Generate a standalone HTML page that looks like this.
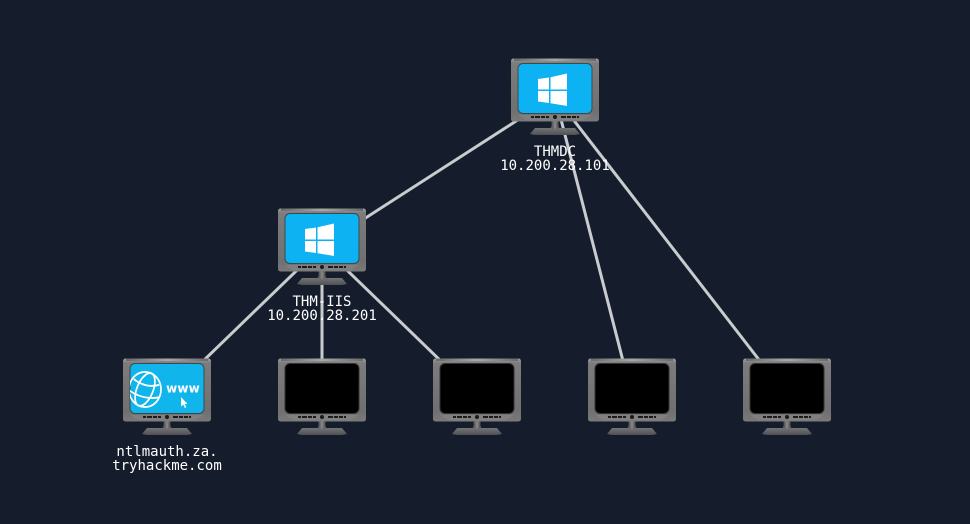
<!DOCTYPE html>
<html><head><meta charset="utf-8"><style>
html,body{margin:0;padding:0;background:#151c2b;width:970px;height:524px;overflow:hidden}
svg{display:block}
text{font-family:"DejaVu Sans Mono","Liberation Mono",monospace;font-size:14px;fill:#fff;text-anchor:middle}
</style></head><body>
<svg width="970" height="524" viewBox="0 0 970 524" xmlns="http://www.w3.org/2000/svg">
<defs>
<linearGradient id="b" x1="0" y1="0" x2="0" y2="1"><stop offset="0" stop-color="#a0a0a0"/><stop offset=".07" stop-color="#7c7c7c"/><stop offset=".85" stop-color="#707070"/><stop offset="1" stop-color="#7a7a7a"/></linearGradient>
<linearGradient id="t" x1="0" y1="0" x2="1" y2="0"><stop offset="0" stop-color="#6a6a6a"/><stop offset=".5" stop-color="#a8a8a8"/><stop offset="1" stop-color="#6a6a6a"/></linearGradient>
<linearGradient id="s" x1="0" y1="0" x2="0" y2="1"><stop offset="0" stop-color="#7b7b7b"/><stop offset="1" stop-color="#4e5154"/></linearGradient>
<linearGradient id="n" x1="0" y1="0" x2="1" y2="0"><stop offset="0" stop-color="#4a4a4a"/><stop offset=".5" stop-color="#8a8a8a"/><stop offset="1" stop-color="#4a4a4a"/></linearGradient>
<clipPath id="c"><rect x="7" y="5" width="74" height="50" rx="5"/></clipPath>
<g id="m">
<path d="M24 69.500H40V68H48V69.500H64L69 75.500L64 76.500H24L19 75.500Z" fill="url(#s)"/>
<rect x="40.500" y="63" width="7" height="7" fill="url(#n)"/>
<rect x="0" y="0" width="88" height="63" rx="2.500" fill="url(#b)"/>
<rect x="3" y="0" width="82" height="2.500" fill="url(#t)"/>
<path d="M7 56.500H81L72 62H16Z" fill="#808080"/>
<g fill="#1a1a1a"><rect x="20" y="57.500" width="3" height="2"/><rect x="24" y="57.500" width="5" height="2"/><rect x="30" y="57.500" width="4" height="2"/><rect x="35" y="57.500" width="3" height="2"/><rect x="50" y="57.500" width="5" height="2"/><rect x="56" y="57.500" width="4" height="2"/><rect x="61" y="57.500" width="4" height="2"/><rect x="66" y="57.500" width="2" height="2"/><circle cx="44" cy="58.500" r="2"/></g>
</g>
<g id="w" fill="#fff"><path d="M27 20.500L38 19V31H27ZM39.500 18.800L56 15V31H39.500ZM27 32.500H38V44.500L27 43ZM39.500 32.500H56V47.500L39.500 44.700Z"/></g>
</defs>
<rect width="970" height="524" fill="#151c2b"/>
<g stroke="#c9cccf" stroke-width="3" fill="none">
<line x1="555" y1="96" x2="322" y2="246"/>
<line x1="555" y1="96" x2="632" y2="396"/>
<line x1="555" y1="96" x2="787" y2="396"/>
<line x1="322" y1="246" x2="167" y2="396"/>
<line x1="322" y1="246" x2="322" y2="396"/>
<line x1="322" y1="246" x2="477" y2="396"/>
</g>

<g transform="translate(511,58.500)"><use href="#m"/><rect x="7" y="5" width="74" height="50" rx="5" fill="#0cb2f1" stroke="#3a4a52" stroke-width="1"/><use href="#w"/></g>
<g transform="translate(278,208.500)"><use href="#m"/><rect x="7" y="5" width="74" height="50" rx="5" fill="#0cb2f1" stroke="#3a4a52" stroke-width="1"/><use href="#w"/></g>

<g transform="translate(123,358.500)"><use href="#m"/><rect x="7" y="5" width="74" height="50" rx="5" fill="#10b5ec" stroke="#3a4a52" stroke-width="1"/>
<g clip-path="url(#c)"><g fill="none" stroke="#fff" stroke-width="1.700" transform="translate(22,31) scale(1,1.100)"><circle r="16"/><ellipse rx="8" ry="16" transform="rotate(25)"/><path d="M-13 -7Q0 -1 13 -7M-15.500 4Q0 10 15.500 4" transform="rotate(12)"/></g></g>
<text x="60" y="34" style="font-family:'DejaVu Sans',sans-serif;font-size:12px;font-weight:bold;letter-spacing:.2px">www</text>
<path d="M58 38.500L58 48L60.300 46L61.800 49.500L63.300 48.800L61.900 45.500H64.500Z" fill="#fff"/></g>

<g transform="translate(278,358.500)"><use href="#m"/><rect x="7" y="5" width="74" height="50" rx="5" fill="#000" stroke="#333" stroke-width="1"/></g>
<g transform="translate(433,358.500)"><use href="#m"/><rect x="7" y="5" width="74" height="50" rx="5" fill="#000" stroke="#333" stroke-width="1"/></g>
<g transform="translate(588,358.500)"><use href="#m"/><rect x="7" y="5" width="74" height="50" rx="5" fill="#000" stroke="#333" stroke-width="1"/></g>
<g transform="translate(743,358.500)"><use href="#m"/><rect x="7" y="5" width="74" height="50" rx="5" fill="#000" stroke="#333" stroke-width="1"/></g>

<text x="555" y="156">THMDC</text><text x="555" y="170">10.200.28.101</text>
<text x="322" y="306">THM-IIS</text><text x="322" y="320">10.200.28.201</text>
<text x="167" y="456">ntlmauth.za.</text><text x="167" y="470">tryhackme.com</text>
</svg>
</body></html>
